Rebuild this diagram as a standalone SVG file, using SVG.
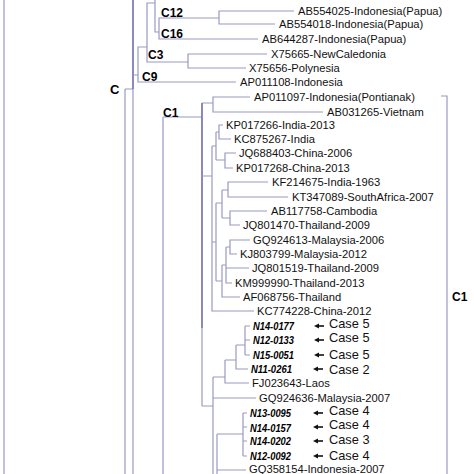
<svg xmlns="http://www.w3.org/2000/svg" width="474" height="474" viewBox="0 0 474 474">
<style>
.e{fill:none;stroke:#9999c4;stroke-width:1.2}
.d{fill:none;stroke:#6c6cb0;stroke-width:1.3}
.t{font-family:"Liberation Sans",Arial,sans-serif;font-size:11.2px;fill:#111}
.n{font-family:"Liberation Sans",Arial,sans-serif;font-size:11px;font-weight:bold;font-style:italic;fill:#000}
.c{font-family:"Liberation Sans",Arial,sans-serif;font-size:12.8px;fill:#111}
.b{font-family:"Liberation Sans",Arial,sans-serif;font-size:12px;font-weight:bold;fill:#000}
</style>
<defs>
<g id="arr"><polygon points="0,0 5,-2.6 5,2.6" fill="#111"/><line x1="4" y1="0" x2="10" y2="0" stroke="#111" stroke-width="1.6"/></g>
</defs>
<rect width="474" height="474" fill="#fff"/>
<g id="connectors">
<path class="e" d="M4,0 V474 M133,0 V474 M125,89 H133 M125,89 V474"/>
<path class="d" d="M133,0 V89"/>
<path class="e" d="M294,11 H219 V24 H275 M219,18 H159 V39 H258 M159,32 H155 V-10 M155,3 H147 V62 H188 M267,54 H188 V68 H246 M147,47 H138 V82 H236 M138,75 H133"/>
<path class="e" d="M163,117 H202 M163,117 V474 M202,103 V406 M213,103 H202 M250,97 H213 V112 H323"/>
<path class="d" d="M202,103 V328"/>
<path class="e" d="M202,176 H212 M212,146 V311 H254 M212,146 H216 M216,132 V160 M216,132 H219 M223,125 H219 V139 H231 M216,160 H225 M236,153 H225 V168 H233"/>
<path class="e" d="M212,242 H216 M216,203 V281 M216,203 H222 M222,190 V218 M222,190 H228 M268,182 H228 V197 H288 M222,218 H230 M267,211 H230 V225 H240"/>
<path class="e" d="M216,281 H222 M222,265 V297 H240 M222,265 H226 M226,247 V283 H232 M226,268 H249 M226,247 H230 M250,240 H230 V254 H237"/>
<path class="e" d="M202,406 H213 M213,377 V474 M213,398 H256 M213,377 H225 M225,360 V383 H249 M225,360 H236 M236,345 V369 H248 M236,345 H245 M245,326 V355 M245,326 H250 M245,340 H250 M245,355 H250"/>
<path class="e" d="M217,434 V478 M217,434 H243 M243,413 V456 M243,413 H247 M243,427 H247 M243,441 H247 M243,456 H247 M217,470 H246"/>
<path class="e" d="M441,96 H447 V474"/>
</g>
<g id="clade-labels">
<text class="b" x="161" y="17">C12</text>
<text class="b" x="161" y="38">C16</text>
<text class="b" x="148" y="59">C3</text>
<text class="b" x="142" y="81">C9</text>
<text class="b" x="110" y="94" style="font-size:13px">C</text>
<text class="b" x="163" y="117">C1</text>
<text class="b" x="452" y="301">C1</text>
</g>
<g id="leaves">
<text class="t" x="298" y="15">AB554025-Indonesia(Papua)</text>
<text class="t" x="279" y="28">AB554018-Indonesia(Papua)</text>
<text class="t" x="262" y="43">AB644287-Indonesia(Papua)</text>
<text class="t" x="271" y="58">X75665-NewCaledonia</text>
<text class="t" x="249" y="72">X75656-Polynesia</text>
<text class="t" x="240" y="86">AP011108-Indonesia</text>
<text class="t" x="254" y="101">AP011097-Indonesia(Pontianak)</text>
<text class="t" x="327" y="116">AB031265-Vietnam</text>
<text class="t" x="226" y="129">KP017266-India-2013</text>
<text class="t" x="234" y="143">KC875267-India</text>
<text class="t" x="239" y="157">JQ688403-China-2006</text>
<text class="t" x="236" y="172">KP017268-China-2013</text>
<text class="t" x="272" y="186">KF214675-India-1963</text>
<text class="t" x="292" y="201">KT347089-SouthAfrica-2007</text>
<text class="t" x="271" y="215">AB117758-Cambodia</text>
<text class="t" x="243" y="229">JQ801470-Thailand-2009</text>
<text class="t" x="253" y="244">GQ924613-Malaysia-2006</text>
<text class="t" x="240" y="258">KJ803799-Malaysia-2012</text>
<text class="t" x="252" y="272">JQ801519-Thailand-2009</text>
<text class="t" x="235" y="287">KM999990-Thailand-2013</text>
<text class="t" x="243" y="301">AF068756-Thailand</text>
<text class="t" x="257" y="315">KC774228-China-2012</text>
<text class="t" x="252" y="387">FJ023643-Laos</text>
<text class="t" x="259" y="402">GQ924636-Malaysia-2007</text>
<text class="t" x="249" y="473">GQ358154-Indonesia-2007</text>
</g>
<g id="cases">
<text class="n" x="253" y="330" textLength="41" lengthAdjust="spacingAndGlyphs">N14-0177</text><use href="#arr" x="314" y="326"/><text class="c" x="329" y="328">Case 5</text>
<text class="n" x="253" y="344" textLength="41" lengthAdjust="spacingAndGlyphs">N12-0133</text><use href="#arr" x="314" y="340"/><text class="c" x="329" y="342">Case 5</text>
<text class="n" x="253" y="359" textLength="41" lengthAdjust="spacingAndGlyphs">N15-0051</text><use href="#arr" x="314" y="355"/><text class="c" x="329" y="359">Case 5</text>
<text class="n" x="251" y="373" textLength="41" lengthAdjust="spacingAndGlyphs">N11-0261</text><use href="#arr" x="313" y="369"/><text class="c" x="329" y="374">Case 2</text>
<text class="n" x="250" y="417" textLength="41" lengthAdjust="spacingAndGlyphs">N13-0095</text><use href="#arr" x="313" y="413"/><text class="c" x="329" y="415">Case 4</text>
<text class="n" x="250" y="432" textLength="41" lengthAdjust="spacingAndGlyphs">N14-0157</text><use href="#arr" x="313" y="427"/><text class="c" x="329" y="429">Case 4</text>
<text class="n" x="250" y="445" textLength="41" lengthAdjust="spacingAndGlyphs">N14-0202</text><use href="#arr" x="313" y="441"/><text class="c" x="329" y="444">Case 3</text>
<text class="n" x="250" y="460" textLength="41" lengthAdjust="spacingAndGlyphs">N12-0092</text><use href="#arr" x="313" y="456"/><text class="c" x="329" y="460">Case 4</text>
</g>
</svg>
